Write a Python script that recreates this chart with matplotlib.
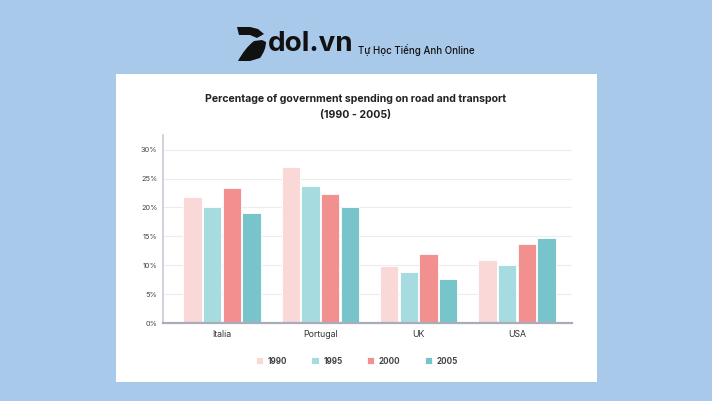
import matplotlib
matplotlib.use("Agg")
import matplotlib.pyplot as plt
from matplotlib.patches import Rectangle, PathPatch
from matplotlib.path import Path
import numpy as np

categories = ["Italia", "Portugal", "UK", "USA"]
years = ["1990", "1995", "2000", "2005"]
values_1990 = [21.9, 27.0, 9.8, 10.9]
values_1995 = [20.0, 23.8, 8.8, 10.0]
values_2000 = [23.3, 22.3, 11.9, 13.6]
values_2005 = [19.0, 20.0, 7.7, 14.8]
series = [values_1990, values_1995, values_2000, values_2005]
colors = ["#FBD8D8", "#A6DCDF", "#F28F8F", "#77C5CB"]
yticks = [0, 5, 10, 15, 20, 25, 30]

W, H = 712, 401
fig = plt.figure(figsize=(W / 100, H / 100), dpi=100)
fig.patch.set_facecolor("#A9C9EA")

# white panel
fig.add_artist(Rectangle((116 / W, 1 - 382 / H), (597 - 116) / W, (382 - 74) / H,
                         transform=fig.transFigure, facecolor="white", edgecolor="none", zorder=0))

# logo glyph (approximate)
def fx(x):
    return x / W
def fy(y):
    return 1 - y / H

top = [(237, 27), (250, 27), (258, 29), (264, 34), (257, 38), (250, 35), (242, 35), (239, 35), (237, 27)]
codes_top = [Path.MOVETO] + [Path.LINETO] * (len(top) - 2) + [Path.CLOSEPOLY]
fig.add_artist(PathPatch(Path([(fx(a), fy(b)) for a, b in top], codes_top),
                         transform=fig.transFigure, facecolor="#111111", edgecolor="none"))
leaf = [(238, 61), (245, 48), (254, 41), (262, 40), (266, 42), (266, 50), (260, 58), (250, 61), (238, 61)]
codes_leaf = [Path.MOVETO, Path.CURVE3, Path.CURVE3, Path.LINETO, Path.LINETO,
              Path.CURVE3, Path.CURVE3, Path.LINETO, Path.CLOSEPOLY]
fig.add_artist(PathPatch(Path([(fx(a), fy(b)) for a, b in leaf], codes_leaf),
                         transform=fig.transFigure, facecolor="#111111", edgecolor="none"))
fig.text(268 / W, 1 - 44 / H, "dol.vn", fontsize=20, fontweight="bold", color="#111111",
         va="center", ha="left", family="Inter")
fig.text(358 / W, 1 - 50 / H, "Tự Học Tiếng Anh Online", fontsize=7.0, color="#111111",
         va="center", ha="left", family="Inter", fontweight="medium")

# title
fig.text(356 / W, 1 - 99 / H, "Percentage of government spending on road and transport",
         fontsize=7.6, fontweight="bold", color="#222222", ha="center", va="center", family="Inter")
fig.text(356 / W, 1 - 115 / H, "(1990 - 2005)",
         fontsize=7.6, fontweight="bold", color="#222222", ha="center", va="center", family="Inter")

ax = fig.add_axes([163 / W, 1 - 323 / H, (572 - 163) / W, (323 - 134.7) / H])
ax.set_facecolor("none")
x = np.arange(len(categories))
pitch = 0.2
width = 0.185
for i, (vals, c, lab) in enumerate(zip(series, colors, years)):
    ax.bar(x + (i - 1.5) * pitch, vals, width=width, color=c, label=lab,
           edgecolor="white", linewidth=0.6, zorder=2)

ax.set_xlim(-0.6, 3.56)
ax.set_ylim(0, 32.6)
ax.set_yticks(yticks)
ax.set_yticklabels([f"{t}%" for t in yticks], fontsize=5.3, color="#444444", family="Inter")
ax.set_xticks(x)
ax.set_xticklabels(categories, fontsize=6.3, color="#333333", family="Inter")
ax.tick_params(axis="both", length=0, pad=4)
ax.tick_params(axis="x", pad=5)
ax.grid(axis="y", color="#ECECF1", linewidth=0.8, zorder=0)
ax.set_axisbelow(True)
for s in ["top", "right"]:
    ax.spines[s].set_visible(False)
ax.spines["left"].set_color("#C8CBD3")
ax.spines["left"].set_linewidth(1.2)
ax.spines["bottom"].set_color("#A9ADB9")
ax.spines["bottom"].set_linewidth(1.6)
ax.spines["bottom"].set_zorder(3)

handles, labels = ax.get_legend_handles_labels()
leg = fig.legend(handles, labels, loc="center", bbox_to_anchor=(357 / W, 1 - 361 / H),
                 ncol=4, frameon=False, handlelength=0.9, handleheight=0.9,
                 columnspacing=3.0, handletextpad=0.6,
                 prop={"family": "Inter", "weight": "bold", "size": 5.8})
for t in leg.get_texts():
    t.set_color("#444444")

fig.savefig("out.png", dpi=100, facecolor=fig.get_facecolor())
